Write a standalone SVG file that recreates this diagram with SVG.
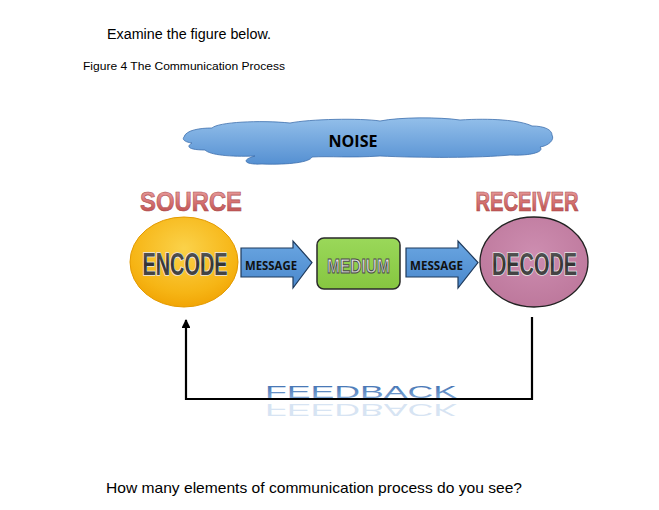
<svg xmlns="http://www.w3.org/2000/svg" width="659" height="510" viewBox="0 0 659 510">
<defs>
<linearGradient id="gCloud" x1="0" y1="0" x2="0" y2="1">
<stop offset="0" stop-color="#93bfea"/>
<stop offset="1" stop-color="#5590d2"/>
</linearGradient>
<radialGradient id="gEnc" cx="0.5" cy="0.35" r="0.7">
<stop offset="0" stop-color="#fbd24a"/>
<stop offset="0.7" stop-color="#f6b515"/>
<stop offset="1" stop-color="#f0a000"/>
</radialGradient>
<radialGradient id="gDec" cx="0.5" cy="0.4" r="0.7">
<stop offset="0" stop-color="#cd8db0"/>
<stop offset="1" stop-color="#bb7599"/>
</radialGradient>
<linearGradient id="gArr" x1="0" y1="0" x2="0" y2="1">
<stop offset="0" stop-color="#6aa6e2"/>
<stop offset="1" stop-color="#4a88cc"/>
</linearGradient>
<linearGradient id="gMed" x1="0" y1="0" x2="0" y2="1">
<stop offset="0" stop-color="#9ad85a"/>
<stop offset="1" stop-color="#86c640"/>
</linearGradient>
<linearGradient id="gRed" x1="0" y1="0" x2="0" y2="1">
<stop offset="0" stop-color="#eeaaaa"/>
<stop offset="0.55" stop-color="#d47070"/>
<stop offset="1" stop-color="#b84646"/>
</linearGradient>
<linearGradient id="gDark" x1="0" y1="0" x2="0" y2="1">
<stop offset="0" stop-color="#666"/>
<stop offset="0.5" stop-color="#333"/>
<stop offset="1" stop-color="#555"/>
</linearGradient>
<linearGradient id="gMedT" x1="0" y1="0" x2="0" y2="1">
<stop offset="0" stop-color="#f2f2f2"/>
<stop offset="1" stop-color="#b8b8b8"/>
</linearGradient>
<linearGradient id="gFb" x1="0" y1="0" x2="0" y2="1">
<stop offset="0" stop-color="#3e6eb0"/>
<stop offset="1" stop-color="#8fb3dd"/>
</linearGradient>
<marker id="mArr" viewBox="0 0 10 10" refX="9" refY="5" markerWidth="4" markerHeight="4" orient="auto">
<path d="M0,0 L10,5 L0,10 Z" fill="#000"/>
</marker>
<style>
.body{font-family:"Liberation Sans",Arial,sans-serif;fill:#000}
.title{font-family:"Liberation Sans",Arial,sans-serif;font-weight:bold;text-anchor:middle}
.big{fill:url(#gDark);stroke:#e8e8e8;stroke-width:1.1;paint-order:stroke;font-size:20px}
.red{fill:url(#gRed);stroke:#a84a4a;stroke-width:0.5}
.msg{font-family:"Open Sans","Liberation Sans",sans-serif;font-weight:bold;font-size:12px;fill:#111;text-anchor:middle}
.line{stroke:#000;stroke-width:2.2;fill:none}
</style>
</defs>
<rect width="659" height="510" fill="#fff"/>
<text class="body" x="107" y="39" font-size="14" textLength="164" lengthAdjust="spacingAndGlyphs">Examine the figure below.</text>
<text class="body" x="83" y="70" font-size="11.5" textLength="202" lengthAdjust="spacingAndGlyphs">Figure 4 The Communication Process</text>

<g id="noise">
<path d="M184,137 C186,130 200,128 212,128 C218,122 260,120 290,123 C310,119 360,118 380,121 C400,117 440,117 460,120 C490,118 520,120 532,126 C545,126 552,130 552,135 C555,140 548,146 540,147 C545,152 530,156 510,155 C480,158 420,158 380,156 C350,158 330,156 312,157 C310,162 290,165 262,164 C245,165 240,160 255,156 C230,157 210,155 205,150 C190,150 185,147 192,143 C184,142 182,139 184,137 Z" fill="url(#gCloud)" stroke="#3f70ad" stroke-width="0.8"/>
<text x="353" y="147" font-family="'Open Sans','Liberation Sans',sans-serif" font-weight="bold" font-size="16" text-anchor="middle" fill="#000" textLength="49" lengthAdjust="spacingAndGlyphs">NOISE</text>
</g>

<g id="source">
<text class="title red" transform="translate(191,211) scale(1,1.17)" font-size="23.8" textLength="102" lengthAdjust="spacingAndGlyphs">SOURCE</text>
</g>
<g id="receiver">
<text class="title red" transform="translate(527,211) scale(1,1.39)" font-size="20.1" textLength="103" lengthAdjust="spacingAndGlyphs">RECEIVER</text>
</g>

<g id="encode">
<ellipse cx="184" cy="262" rx="54" ry="45" fill="url(#gEnc)" stroke="#e39a00" stroke-width="1"/>
<text class="title big" transform="translate(185,275) scale(1,1.54)" textLength="85" lengthAdjust="spacingAndGlyphs">ENCODE</text>
</g>

<g id="medium">
<rect x="317" y="238" width="83" height="51" rx="7" fill="url(#gMed)" stroke="#2a2a2a" stroke-width="1.5"/>
<text class="title" transform="translate(358.5,273) scale(1,1.35)" font-size="15.5" fill="url(#gMedT)" stroke="#4a4a4a" stroke-width="0.7" textLength="63" lengthAdjust="spacingAndGlyphs">MEDIUM</text>
</g>

<g id="decode">
<ellipse cx="534" cy="262" rx="54" ry="45" fill="url(#gDec)" stroke="#222" stroke-width="1.3"/>
<text class="title big" transform="translate(534.5,275) scale(1,1.54)" textLength="85" lengthAdjust="spacingAndGlyphs">DECODE</text>
</g>

<g id="connectors">
<g id="msg1">
<path d="M241,248 L293,248 L293,241 L312,262.5 L293,288 L293,277 L241,277 Z" fill="url(#gArr)" stroke="#1e3a5c" stroke-width="1.2" stroke-linejoin="miter"/>
<text class="msg" x="271" y="270" textLength="52" lengthAdjust="spacingAndGlyphs">MESSAGE</text>
</g>
<g id="msg2">
<path d="M406,248 L458,248 L458,241 L478,262.5 L458,288 L458,277 L406,277 Z" fill="url(#gArr)" stroke="#1e3a5c" stroke-width="1.2" stroke-linejoin="miter"/>
<text class="msg" x="436.5" y="270" textLength="53" lengthAdjust="spacingAndGlyphs">MESSAGE</text>
</g>
<g id="feedback">
<path class="line" d="M532,317 L532,399 L186,399 L186,320" marker-end="url(#mArr)"/>
</g>
</g>

<g id="feedback-label">
<text x="265" y="398" font-family="'Liberation Sans',Arial,sans-serif" font-size="16" fill="url(#gFb)" textLength="192" lengthAdjust="spacingAndGlyphs">FEEDBACK</text>
<text x="265" y="398" font-family="'Liberation Sans',Arial,sans-serif" font-size="16" fill="#8fb3dd" opacity="0.35" transform="translate(0,802) scale(1,-1)" textLength="192" lengthAdjust="spacingAndGlyphs">FEEDBACK</text>
</g>

<text class="body" x="106" y="493" font-size="15" textLength="416" lengthAdjust="spacingAndGlyphs">How many elements of communication process do you see?</text>
</svg>
